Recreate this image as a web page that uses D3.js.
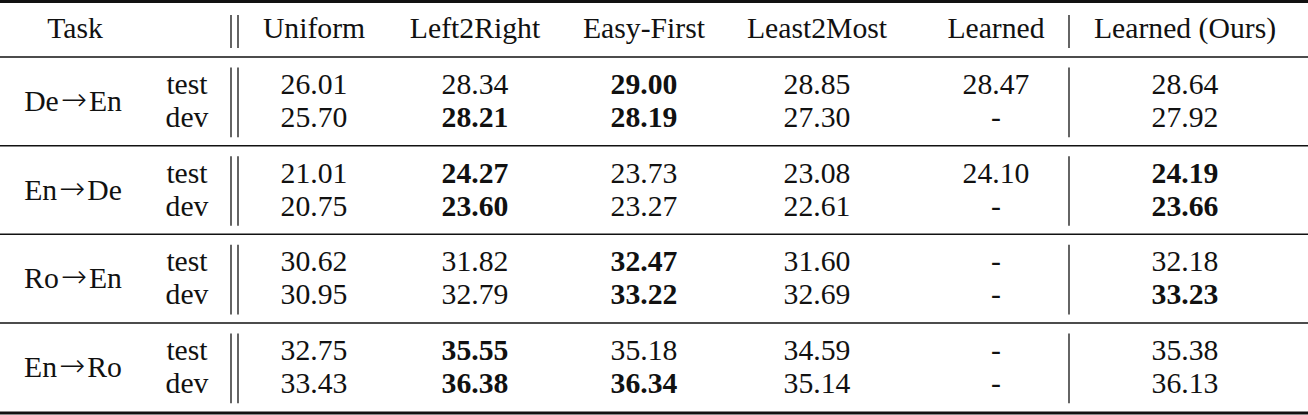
<!DOCTYPE html>
<html>
<head>
<meta charset="utf-8">
<script src="https://cdn.jsdelivr.net/npm/d3@7"></script>
</head>
<body style="margin:0;background:#fff">
<script>
// ---- data ----
const tasks = ["De→En", "En→De", "Ro→En", "En→Ro"];
const splits = ["test", "dev"];
const methods = ["Uniform", "Left2Right", "Easy-First", "Least2Most", "Learned", "Learned (Ours)"];
// values per method, ordered task-by-task, test then dev (null = "-")
const uniform    = [26.01, 25.70, 21.01, 20.75, 30.62, 30.95, 32.75, 33.43];
const left2right = [28.34, 28.21, 24.27, 23.60, 31.82, 32.79, 35.55, 36.38];
const easyFirst  = [29.00, 28.19, 23.73, 23.27, 32.47, 33.22, 35.18, 36.34];
const least2most = [28.85, 27.30, 23.08, 22.61, 31.60, 32.69, 34.59, 35.14];
const learned    = [28.47, null, 24.10, null, null, null, null, null];
const learnedOurs= [28.64, 27.92, 24.19, 23.66, 32.18, 33.23, 35.38, 36.13];
// bold (best) flags per method, same order
const boldUniform    = [0,0,0,0,0,0,0,0];
const boldLeft2Right = [0,1,1,1,0,0,1,1];
const boldEasyFirst  = [1,1,0,0,1,1,0,1];
const boldLeast2Most = [0,0,0,0,0,0,0,0];
const boldLearned    = [0,0,0,0,0,0,0,0];
const boldOurs       = [0,0,1,1,0,1,0,0];

const series = [uniform, left2right, easyFirst, least2most, learned, learnedOurs];
const bolds  = [boldUniform, boldLeft2Right, boldEasyFirst, boldLeast2Most, boldLearned, boldOurs];

// ---- layout ----
const W = 1308, H = 415, FS = 29.7;
const FONT = '"Liberation Serif"';
const svg = d3.select("body").append("svg").attr("width", W).attr("height", H)
  .style("display", "block").style("font-family", FONT);

const x = d3.scaleOrdinal().domain(methods).range([314, 475, 644, 817, 996, 1185]);
const xTask = 73, xSplit = 187;
const headerRule = 57, bottomRule = 411.7;
const yGroup = d3.scaleBand().domain(tasks).range([headerRule, bottomRule]).paddingInner(0).paddingOuter(0);
const ySplit = d3.scalePoint().domain(splits).range([37, 70]);

const txt = (xx, yy, s, bold) => {
  const t = svg.append("text").attr("x", xx).attr("y", yy)
    .attr("text-anchor", "middle").attr("font-size", FS).style("font-family", FONT)
    .attr("fill", "#111").text(s + "\u2060");
  if (bold) t.style("font-weight", "bold");
  return t;
};

// rules
const rule = (y, w) => svg.append("line").attr("x1", 0).attr("x2", W).attr("y1", y).attr("y2", y)
  .attr("stroke", "#111").attr("stroke-width", w);
rule(1.5, 3);
rule(headerRule, 1.5);
tasks.slice(1).forEach(t => rule(yGroup(t), 1.5));
rule(bottomRule + 1.3, 3);

// vertical separators
const vline = (xx, y1, y2) => svg.append("line").attr("x1", xx).attr("x2", xx).attr("y1", y1).attr("y2", y2)
  .attr("stroke", "#111").attr("stroke-width", 1.3);
const vsegs = [[15, 48]].concat(tasks.map(t => [yGroup(t) + 10.5, yGroup(t) + yGroup.bandwidth() - 8.5]));
vsegs.forEach(([a, b]) => { vline(231, a, b); vline(238, a, b); vline(1069, a, b); });

// header
const headerY = 38.3;
txt(xTask + 2, headerY, "Task", false);
methods.forEach(m => txt(x(m), headerY, m, false));

// body
tasks.forEach((t, ti) => {
  const g0 = yGroup(t);
  const parts = t.split("→");
  const lab = svg.append("text").attr("x", xTask).attr("y", g0 + yGroup.bandwidth() / 2 + 9.5)
    .attr("text-anchor", "middle").attr("font-size", FS).style("font-family", FONT).attr("fill", "#111");
  lab.append("tspan").text(parts[0]);
  lab.append("tspan").attr("dx", 2).attr("dy", -1).style("font-family", '"DejaVu Sans"')
    .style("font-weight", 200).attr("font-size", FS * 1.05).text("→");
  lab.append("tspan").attr("dx", 2).attr("dy", 1).text(parts[1]);
  splits.forEach((s, si) => {
    const yy = g0 + ySplit(s);
    txt(xSplit, yy, s, false);
    methods.forEach((m, mi) => {
      const v = series[mi][ti * 2 + si];
      txt(x(m), yy, v == null ? "-" : v.toFixed(2), bolds[mi][ti * 2 + si]);
    });
  });
});
</script>
</body>
</html>
